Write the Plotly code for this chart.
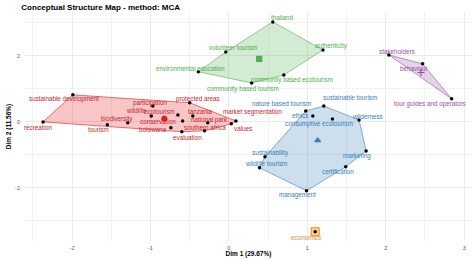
import plotly.graph_objects as go

# ---------------- data ----------------
red_terms = ["recreation", "sustainable development", "tourism", "biodiversity", "participation",
             "wildlife", "ecotourism", "conservation", "protected areas", "tanzania",
             "national park", "botswana", "southern africa", "evaluation",
             "market segmentation", "values"]
red_x = [-2.37, -1.99, -1.55, -1.29, -0.97, -0.99, -0.65, -0.59, -0.50, -0.46,
         -0.27, -0.74, -0.31, -0.60, 0.09, 0.03]
red_y = [0.00, 0.82, -0.09, -0.03, 0.48, 0.18, 0.21, 0.03, 0.58, 0.18,
         -0.03, -0.18, -0.27, -0.30, 0.03, -0.06]

green_terms = ["thailand", "authenticity", "volunteer tourism", "environmental education",
               "community based tourism", "community based ecotourism"]
green_x = [0.56, 1.20, -0.04, -0.39, 0.29, 0.70]
green_y = [3.03, 2.18, 2.12, 1.52, 1.18, 1.42]

purple_terms = ["stakeholders", "behaviour", "tour guides and operators"]
purple_x = [2.04, 2.47, 2.84]
purple_y = [2.03, 1.76, 0.70]

blue_terms = ["sustainable tourism", "nature based tourism", "ethics", "consumptive ecotourism",
              "wilderness", "marketing", "certification", "management", "sustainability",
              "wildlife tourism"]
blue_x = [1.21, 0.98, 1.07, 1.32, 1.66, 1.75, 1.49, 0.99, 0.46, 0.39]
blue_y = [0.48, 0.33, 0.18, 0.09, 0.06, -0.88, -1.36, -2.09, -1.06, -1.39]

orange_terms = ["economics"]
orange_x = [1.10]
orange_y = [-3.33]

x_ticks = [-2, -1, 0, 1, 2, 3]
y_ticks = [-2, 0, 2]

# ---------------- styles / label offsets (px) ----------------
offsets = {
    "recreation": (-5, -6), "sustainable development": (-9, -4), "tourism": (-9, -5),
    "biodiversity": (-11, 4), "participation": (-3, 3), "wildlife": (-15, 5),
    "ecotourism": (-18, 3), "conservation": (-25, -1), "protected areas": (8, 4),
    "tanzania": (7, 4), "national park": (2, 3), "botswana": (-18, -2),
    "southern africa": (0, 3), "evaluation": (6, -6), "market segmentation": (17, 9),
    "values": (12, -5),
    "thailand": (10, 4), "authenticity": (8, 4), "volunteer tourism": (7, 4),
    "environmental education": (-8, 3), "community based tourism": (-9, -6),
    "community based ecotourism": (8, -5),
    "stakeholders": (8, 3), "behaviour": (-9, -5), "tour guides and operators": (-22, -5),
    "sustainable tourism": (26, 9), "nature based tourism": (-24, 7), "ethics": (-13, 0),
    "consumptive ecotourism": (-13, -5), "wilderness": (8, 3), "marketing": (-9, -5),
    "certification": (-8, -5), "management": (-9, -4), "sustainability": (6, 4),
    "wildlife tourism": (7, 4),
    "economics": (-9, -6),
}

clusters = [
    (red_terms, red_x, red_y, "#E41A1C", "rgba(228,26,28,0.25)", "#C0282B", "circle"),
    (green_terms, green_x, green_y, "#4DAF4A", "rgba(77,175,74,0.25)", "#4DAF4A", "square"),
    (blue_terms, blue_x, blue_y, "#377EB8", "rgba(55,126,184,0.25)", "#377EB8", "triangle-up"),
    (purple_terms, purple_x, purple_y, "#984EA3", "rgba(152,78,163,0.25)", "#984EA3", "cross-thin-open"),
    (orange_terms, orange_x, orange_y, "#FF7F00", "rgba(255,127,0,0.35)", "#E08A2E", "square"),
]


def hull(xs, ys):
    pts = sorted(set(zip(xs, ys)))
    if len(pts) < 3:
        return pts

    def cross(o, a, b):
        return (a[0] - o[0]) * (b[1] - o[1]) - (a[1] - o[1]) * (b[0] - o[0])
    lower, upper = [], []
    for p in pts:
        while len(lower) >= 2 and cross(lower[-2], lower[-1], p) <= 0:
            lower.pop()
        lower.append(p)
    for p in reversed(pts):
        while len(upper) >= 2 and cross(upper[-2], upper[-1], p) <= 0:
            upper.pop()
        upper.append(p)
    return lower[:-1] + upper[:-1]


fig = go.Figure()
for terms, xs, ys, col, fill, tcol, sym in clusters:
    h = hull(xs, ys)
    if len(h) >= 3:
        hx = [p[0] for p in h] + [h[0][0]]
        hy = [p[1] for p in h] + [h[0][1]]
        fig.add_trace(go.Scatter(x=hx, y=hy, mode="lines", fill="toself", fillcolor=fill,
                                 line=dict(color=col, width=0.6), hoverinfo="skip",
                                 showlegend=False))
    cx = sum(xs) / len(xs)
    cy = sum(ys) / len(ys)
    if len(xs) == 1:
        fig.add_trace(go.Scatter(x=[cx], y=[cy], mode="markers", showlegend=False,
                                 marker=dict(symbol="square", size=8, color=fill,
                                             line=dict(color=col, width=1))))
    else:
        fig.add_trace(go.Scatter(x=[cx], y=[cy], mode="markers", showlegend=False,
                                 marker=dict(symbol=sym, size=5, color=col,
                                             line=dict(color=col, width=1.2))))
    fig.add_trace(go.Scatter(x=xs, y=ys, mode="markers", showlegend=False,
                             marker=dict(size=3.5, color="black")))
    for t, x, y in zip(terms, xs, ys):
        dx, dy = offsets.get(t, (0, 0))
        fig.add_annotation(x=x, y=y, text=t, showarrow=False, xshift=dx, yshift=dy,
                           font=dict(family="Liberation Sans", size=6.3, color=tcol))

fig.update_layout(
    width=474, height=260,
    margin=dict(l=25, r=2, t=12, b=19),
    paper_bgcolor="white", plot_bgcolor="white",
    title=dict(text="<b>Conceptual Structure Map - method: MCA</b>", x=0.045, xanchor="left",
               y=0.985, yanchor="top",
               font=dict(family="Liberation Sans", size=8, color="black")),
    xaxis=dict(range=[-2.6, 3.1], tickvals=x_ticks, ticktext=[str(v) for v in x_ticks],
               showgrid=True, gridcolor="#EBEBEB", gridwidth=0.8, zeroline=False,
               minor=dict(dtick=0.5, tick0=0, showgrid=True, gridcolor="#F2F2F2", gridwidth=0.6),
               tickfont=dict(family="Liberation Sans", size=5.5, color="#555"),
               ticks="", ticklabelstandoff=2,
               title=dict(text="<b>Dim 1 (29.67%)</b>", standoff=1,
                          font=dict(family="Liberation Sans", size=6.5, color="black"))),
    yaxis=dict(range=[-3.61, 3.33], tickvals=y_ticks, ticktext=[str(v) for v in y_ticks],
               showgrid=True, gridcolor="#EBEBEB", gridwidth=0.8, zeroline=False,
               minor=dict(dtick=1, tick0=0, showgrid=True, gridcolor="#F2F2F2", gridwidth=0.6),
               tickfont=dict(family="Liberation Sans", size=5.5, color="#555"),
               ticks="", ticklabelstandoff=4,
               title=dict(text="<b>Dim 2 (11.56%)</b>", standoff=2,
                          font=dict(family="Liberation Sans", size=6.5, color="black"))),
)

fig.write_html("out.html")
